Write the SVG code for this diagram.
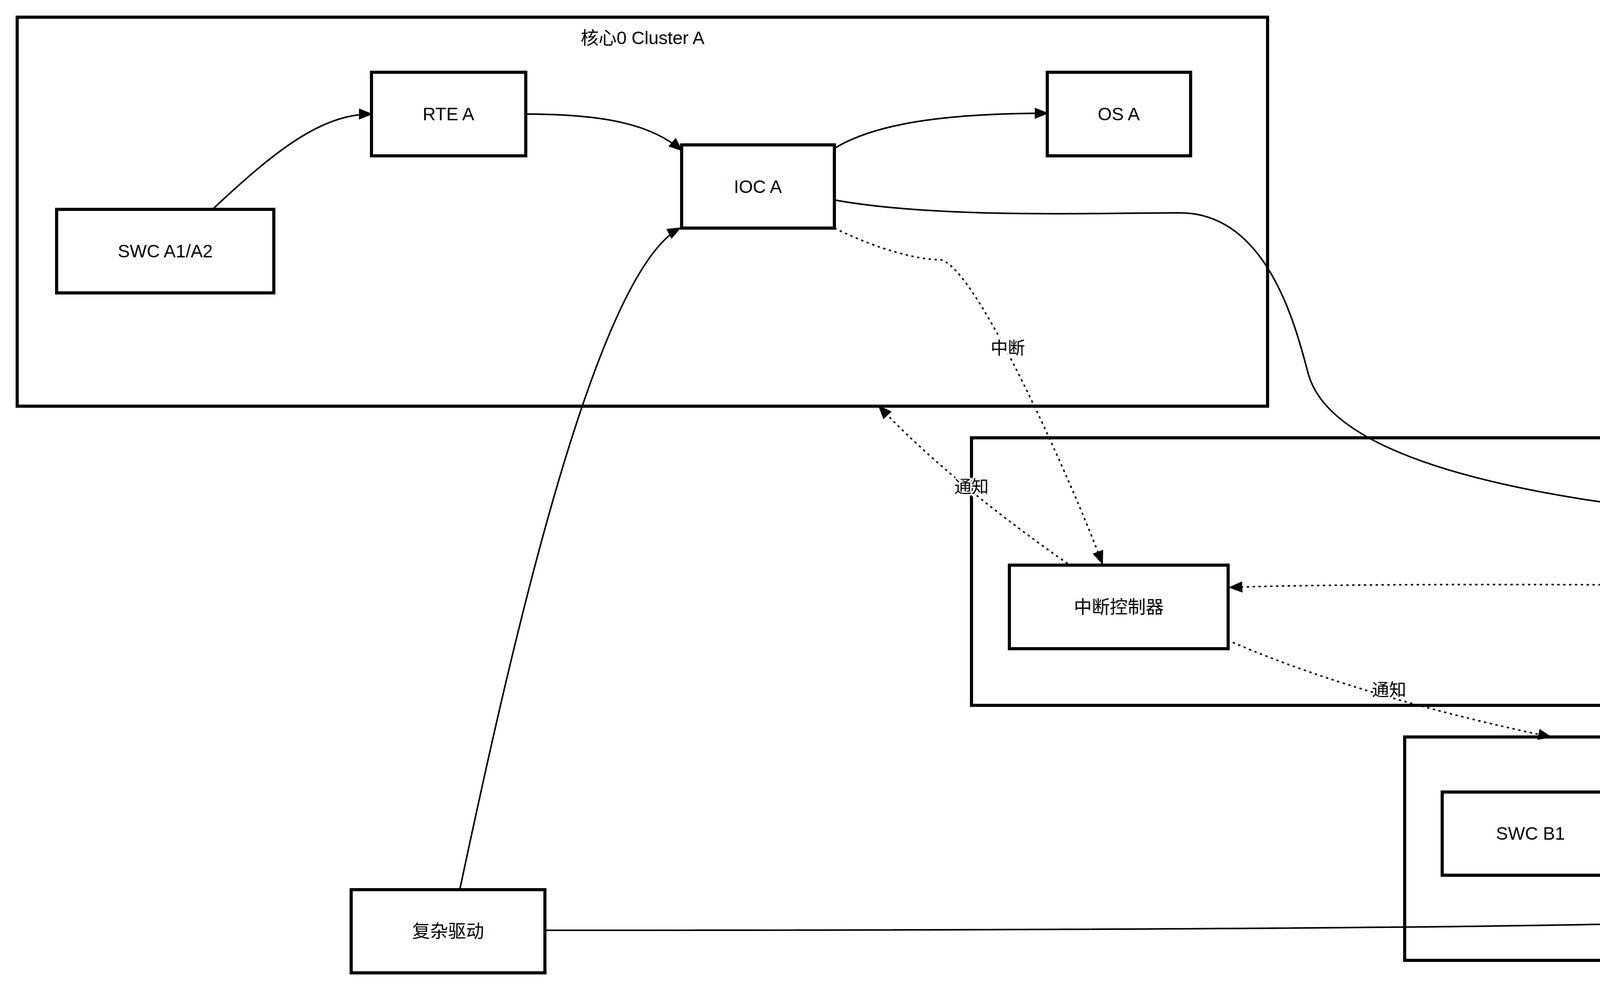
<svg xmlns="http://www.w3.org/2000/svg" width="6320" height="2540" viewBox="0 0 6320 2540">
<defs>
<style>
.box{fill:#fff;stroke:#000;stroke-width:8}
.cl{fill:none;stroke:#000;stroke-width:8}
.t{font-family:"Liberation Sans","Noto Sans CJK SC",sans-serif;font-size:46px;fill:#000;text-anchor:middle;dominant-baseline:central}
.e{fill:none;stroke:#000;stroke-width:4}
.d{fill:none;stroke:#000;stroke-width:4;stroke-dasharray:6 9}
.lb{font-family:"Liberation Sans","Noto Sans CJK SC",sans-serif;font-size:44px;fill:#000;text-anchor:middle;dominant-baseline:central}
</style>
<marker id="a" viewBox="0 0 10 10" refX="9" refY="5" markerWidth="9" markerHeight="9" markerUnits="userSpaceOnUse" orient="auto"><path d="M0,0L10,5L0,10z"/></marker>
<marker id="m" viewBox="0 0 10 10" refX="9" refY="5" markerWidth="36" markerHeight="36" markerUnits="userSpaceOnUse" orient="auto"><path d="M0,1L10,5L0,9z"/></marker>
</defs>
<rect width="6320" height="2540" fill="#fff"/>
<g id="clusterA"><rect class="cl" x="44" y="44" width="3201" height="996"/><text class="t" x="1645" y="97">核心0 Cluster A</text></g>
<g id="clusterHW"><rect class="cl" x="2487" y="1121" width="3790" height="685"/></g>
<g id="clusterB"><rect class="cl" x="3596" y="1887" width="2681" height="572"/><text class="t" x="4934" y="1943">核心1 Cluster B</text></g>
<g id="edges">
<path class="e" marker-end="url(#m)" d="M544,536 C700,390 820,292 951,292"/>
<path class="e" marker-end="url(#m)" d="M1346,292 C1550,292 1670,320 1745,385"/>
<path class="e" marker-end="url(#m)" d="M2136,380 C2250,310 2450,290 2681,290"/>
<path class="e" marker-end="url(#m)" d="M2136,512 C2400,560 2800,545 3020,545 C3250,545 3320,850 3350,960 C3450,1300 4600,1370 5688,1370"/>
<path class="d" marker-end="url(#m)" d="M2136,584 C2250,640 2350,665 2407,665 C2500,680 2750,1250 2822,1443"/>
<path class="d" marker-end="url(#m)" d="M2733,1443 C2600,1350 2400,1200 2250,1040"/>
<path class="d" marker-end="url(#m)" d="M5232,2028 C5150,1700 4900,1500 4434,1500 C4000,1495 3400,1495 3148,1504"/>
<path class="d" marker-end="url(#m)" d="M3156,1645 C3400,1750 3700,1830 3970,1887"/>
<path class="e" marker-end="url(#m)" d="M5490,2076 C5600,2000 5750,1700 5873,1483"/>
<path class="e" marker-end="url(#m)" d="M5490,2193 C5560,2220 5620,2217 5744,2217"/>
<path class="e" marker-end="url(#m)" d="M4144,2136 L4495,2136"/>
<path class="e" marker-end="url(#m)" d="M4894,2136 L5099,2136"/>
<path class="e" marker-end="url(#m)" d="M1177,2278 C1300,1700 1520,700 1741,584"/>
<path class="e" marker-end="url(#m)" d="M1395,2382 C3500,2382 4800,2370 5000,2320 C5100,2295 5150,2275 5160,2245"/>
<text class="lb" x="2580" y="891" style="paint-order:stroke;stroke:#fff;stroke-width:8">中断</text>
<text class="lb" x="2487" y="1246" style="paint-order:stroke;stroke:#fff;stroke-width:8">通知</text>
<text class="lb" x="4378" y="1463" style="paint-order:stroke;stroke:#fff;stroke-width:8">硬件资源</text>
<text class="lb" x="4366" y="1500" style="paint-order:stroke;stroke:#fff;stroke-width:8">中断</text>
<text class="lb" x="3556" y="1766" style="paint-order:stroke;stroke:#fff;stroke-width:8">通知</text>
</g>
<g id="rteA"><rect class="box" x="951" y="185" width="395" height="214"/><text class="t" x="1148" y="292">RTE A</text></g>
<g id="osA"><rect class="box" x="2681" y="185" width="367" height="214"/><text class="t" x="2864" y="292">OS A</text></g>
<g id="iocA"><rect class="box" x="1745" y="371" width="391" height="213"/><text class="t" x="1940" y="478">IOC A</text></g>
<g id="swcA"><rect class="box" x="145" y="536" width="556" height="214"/><text class="t" x="423" y="643">SWC A1/A2</text></g>
<g id="ram"><rect class="box" x="5688" y="1262" width="488" height="213"/><text class="t" x="5932" y="1368">共享RAM</text></g>
<g id="intc"><rect class="box" x="2584" y="1447" width="560" height="214"/><text class="t" x="2864" y="1554">中断控制器</text></g>
<g id="swcB"><rect class="box" x="3692" y="2028" width="452" height="213"/><text class="t" x="3918" y="2134">SWC B1</text></g>
<g id="rteB"><rect class="box" x="4495" y="2028" width="399" height="213"/><text class="t" x="4694" y="2134">RTE B</text></g>
<g id="iocB"><rect class="box" x="5099" y="2028" width="391" height="213"/><text class="t" x="5294" y="2134">IOC B</text></g>
<g id="osB"><rect class="box" x="5748" y="2108" width="367" height="218"/><text class="t" x="5931" y="2217">OS B</text></g>
<g id="cdd"><rect class="box" x="899" y="2278" width="496" height="213"/><text class="t" x="1147" y="2384">复杂驱动</text></g>
<text x="5150" y="2470" style="font-family:'Liberation Sans','Noto Sans CJK SC',sans-serif;font-size:96px;fill:#ddd;opacity:0.8">CSDN @木木不迷茫(￣▽￣)</text>
</svg>
